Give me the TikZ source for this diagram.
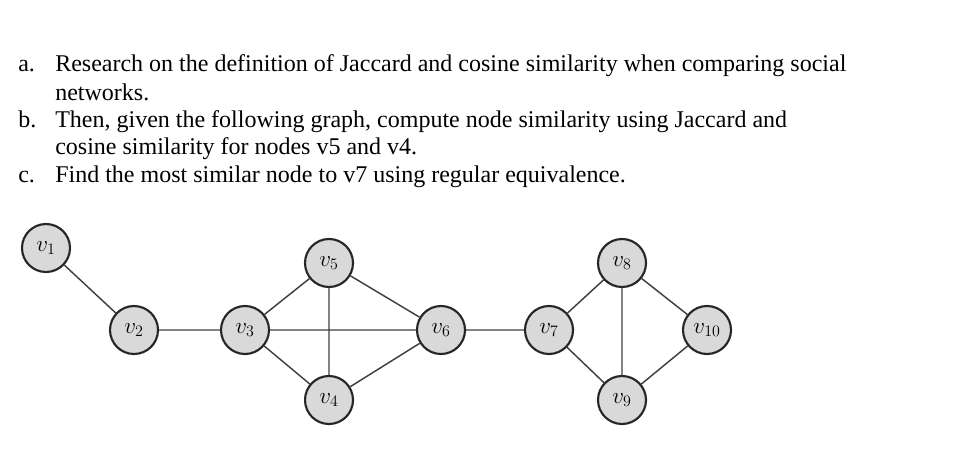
\documentclass[tikz,border=0pt]{standalone}
\usepackage{fontspec}
\setmainfont{Liberation Serif}
\begin{document}
\begin{tikzpicture}[x=0.75pt,y=-0.75pt,
  nd/.style={circle,draw=black!85,line width=1.6pt,fill=black!15,minimum size=36pt,inner sep=0pt,font=\fontsize{18}{18}\selectfont},
  ed/.style={draw=black!75,line width=1.1pt},
  txt/.style={anchor=base west,inner sep=0pt,font=\fontsize{18}{18}\selectfont}]
\useasboundingbox (0,0) rectangle (956,460);
\node[txt] (la) at (18,72) {a.};
\node[txt] (ta) at (55,72) {Research on the definition of Jaccard and cosine similarity when comparing social};
\node[txt] (ta2) at (55,100) {networks.};
\node[txt] (lb) at (18,127) {b.};
\node[txt] (tb) at (55,127) {Then, given the following graph, compute node similarity using Jaccard and};
\node[txt] (tb2) at (55,154) {cosine similarity for nodes v5 and v4.};
\node[txt] (lc) at (18,182) {c.};
\node[txt] (tc) at (55,182) {Find the most similar node to v7 using regular equivalence.};
\node[nd] (v1) at (46,248) {$v_1$};
\node[nd] (v2) at (134,330) {$v_2$};
\node[nd] (v3) at (245,330) {$v_3$};
\node[nd] (v5) at (329,263) {$v_5$};
\node[nd] (v4) at (329,400) {$v_4$};
\node[nd] (v6) at (441,330) {$v_6$};
\node[nd] (v7) at (549,330) {$v_7$};
\node[nd] (v8) at (622,263) {$v_8$};
\node[nd] (v9) at (622,400) {$v_9$};
\node[nd] (v10) at (707,330) {$v_{10}$};
\path[ed] (v1)--(v2) (v2)--(v3) (v3)--(v5) (v3)--(v4) (v3)--(v6) (v5)--(v4) (v5)--(v6) (v4)--(v6) (v6)--(v7) (v7)--(v8) (v7)--(v9) (v8)--(v9) (v8)--(v10) (v9)--(v10);
\end{tikzpicture}
\end{document}
